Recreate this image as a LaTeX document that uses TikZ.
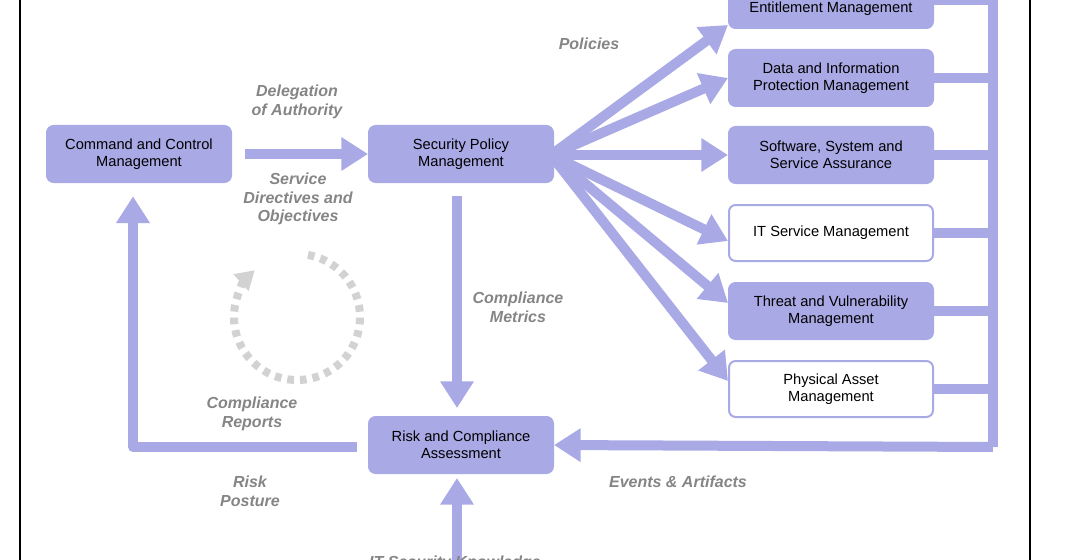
\documentclass[tikz,border=0pt]{standalone}
\usepackage{fontspec}
\setmainfont{Liberation Sans}
\usetikzlibrary{arrows.meta}
\definecolor{lav}{HTML}{A9A9E6}
\definecolor{lbl}{HTML}{858585}
\begin{document}
\begin{tikzpicture}[x=0.75pt,y=-0.75pt,
  box/.style={draw=lav,line width=1.5pt,fill=lav,rounded corners=5pt,minimum width=138pt,minimum height=42pt,align=center,font=\fontsize{11}{13}\selectfont,inner sep=0pt},
  wbox/.style={box,fill=white},
  rbox/.style={box,minimum width=153pt},
  rwbox/.style={rbox,fill=white},
  flow/.style={draw=lav,line width=7.5pt,-{Triangle[length=20pt,width=24pt]}},
  bus/.style={draw=lav,line width=7.5pt},
  lab/.style={text=lbl,font=\bfseries\itshape\fontsize{12}{14}\selectfont,align=center}]
\useasboundingbox (0,0) rectangle (1068,560);
\draw[black,line width=0.8pt] (20,0) -- (20,560) (1030,0) -- (1030,560);
\node[box] (cc) at (139,154) {Command and Control\\Management};
\node[box] (sp) at (461,154) {Security Policy\\Management};
\node[box] (rc) at (461,445) {Risk and Compliance\\Assessment};
\node[rbox] (em) at (831,0) {};
\node[font=\fontsize{11}{13}\selectfont,inner sep=0pt] (emt) at (831,9) {Entitlement Management};
\node[rbox] (dp) at (831,78) {Data and Information\\Protection Management};
\node[rbox] (ss) at (831,155) {Software, System and\\Service Assurance};
\node[rwbox] (it) at (831,233) {IT Service Management};
\node[rbox] (tv) at (831,311) {Threat and Vulnerability\\Management};
\node[rwbox] (pa) at (831,389) {Physical Asset\\Management};
\coordinate (bt) at (993,0);
\coordinate (bb) at (993,447);
\draw[bus] (bt) -- (bb);
\foreach \n in {em,dp,ss,it,tv,pa} \draw[bus] (\n.east) -- (\n.east -| bb);
\draw[flow] (bb) -- (rc.east);
\coordinate (s) at (551,155);
\draw[flow] (s) -- ([yshift=3pt]em.south west);
\draw[flow] (s) -- (dp.west);
\draw[flow] (s) -- (ss.west);
\draw[flow] (s) -- ([yshift=-6pt]it.west);
\draw[flow] (s) -- ([yshift=6pt]tv.west);
\draw[flow] (s) -- ([yshift=6pt]pa.west);
\draw[flow] ([xshift=10pt]cc.east) -- (sp.west);
\draw[flow] ([xshift=-3pt,yshift=-10pt]sp.south) -- ([xshift=-3pt,yshift=6pt]rc.north);
\coordinate (ik) at (457,560);
\draw[flow] (ik) -- ([xshift=-3pt,yshift=-3pt]rc.south);
\coordinate (lc) at (133,447);
\draw[bus,line join=round] ([xshift=-8pt]rc.west |- 0,447) -- (lc) -- (133,240);
\draw[flow] (133,242) -- ([yshift=-10pt]cc.south -| lc);
\draw[gray!35,line width=6pt,dash pattern=on 5pt off 4.5pt,-{Triangle[length=14pt,width=16pt]}] (297,317) ++(-80:63) arc[start angle=-80,end angle=228,radius=63];
\node[lab] at (589,44) {Policies};
\node[lab] at (297,102) {Delegation\\of Authority};
\node[lab] at (298,199) {Service\\Directives and\\Objectives};
\node[lab] at (518,307) {Compliance\\Metrics};
\node[lab] at (252,414) {Compliance\\Reports};
\node[lab] at (250,491) {Risk\\Posture};
\node[lab] at (678,482) {Events \& Artifacts};
\node[lab] at (455,563) {IT Security Knowledge};
\end{tikzpicture}
\end{document}
